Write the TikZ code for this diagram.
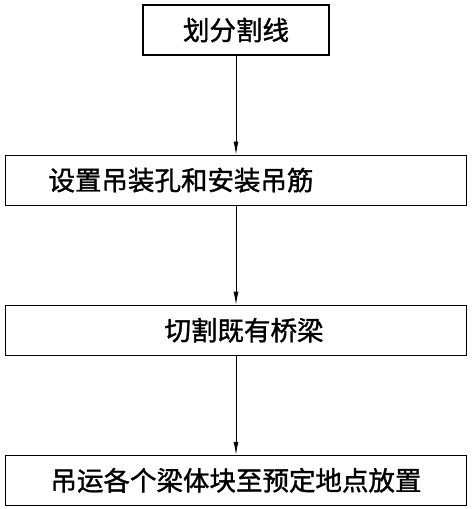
\documentclass[tikz,border=0pt]{standalone}
\usepackage{fontspec}
\newfontfamily\cjk[FakeBold=1.3]{Noto Sans CJK SC}
\usetikzlibrary{arrows.meta,positioning}

\begin{document}
\begin{tikzpicture}[node distance=99pt,>={Latex[length=13pt,width=5pt]},thick]
\tikzstyle{box}=[draw, line width=1.1pt, minimum height=50pt, inner sep=0pt, font=\cjk\fontsize{26.5pt}{30pt}\selectfont]
\useasboundingbox (0,0) rectangle (474pt,-509pt);
\node[box, minimum width=186pt] (divide) at (236pt,-30pt) {划分割线};
\node[box, below=of divide, text width=375pt, inner xsep=43pt, align=left] (hoist) {设置吊装孔和安装吊筋};
\node[box, below=of hoist, minimum width=461pt] (cut) {\hspace*{16pt}切割既有桥梁};
\node[box, below=of cut, minimum width=461pt] (place) {吊运各个梁体块至预定地点放置};
\draw[->, line width=0.8pt] (divide) -- (hoist);
\draw[->, line width=0.8pt] (hoist) -- (cut);
\draw[->, line width=0.8pt] (cut) -- (place);
\end{tikzpicture}
\end{document}
